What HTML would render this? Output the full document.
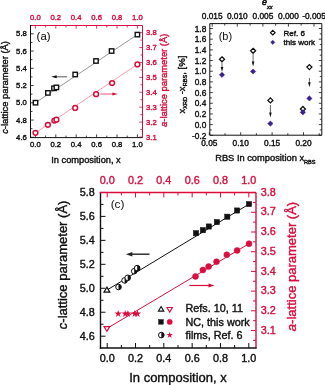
<!DOCTYPE html>
<html><head><meta charset="utf-8"><title>Lattice parameters</title>
<style>
html,body{margin:0;padding:0;background:#fff;}
body{width:325px;height:385px;overflow:hidden;}
svg{display:block;font-family:"Liberation Sans", Arial, sans-serif;}
text{stroke-linejoin:round;}

</style></head>
<body>
<svg width="325" height="385" viewBox="0 0 325 385">
<rect width="325" height="385" fill="#fff"/>
<line x1="35.40" y1="137.60" x2="35.40" y2="134.40" stroke="#111" stroke-width="0.8"/>
<line x1="35.40" y1="25.50" x2="35.40" y2="28.70" stroke="#da0e3e" stroke-width="0.8"/>
<text x="35.40" y="147.40" font-size="7.7" fill="#111" stroke="#111" stroke-width="0.4" text-anchor="middle" >0.0</text>
<text x="35.40" y="20.10" font-size="7.7" fill="#da0e3e" stroke="#da0e3e" stroke-width="0.4" text-anchor="middle" >0.0</text>
<line x1="45.60" y1="137.60" x2="45.60" y2="135.60" stroke="#111" stroke-width="0.8"/>
<line x1="45.60" y1="25.50" x2="45.60" y2="27.50" stroke="#da0e3e" stroke-width="0.8"/>
<line x1="55.80" y1="137.60" x2="55.80" y2="134.40" stroke="#111" stroke-width="0.8"/>
<line x1="55.80" y1="25.50" x2="55.80" y2="28.70" stroke="#da0e3e" stroke-width="0.8"/>
<text x="55.80" y="147.40" font-size="7.7" fill="#111" stroke="#111" stroke-width="0.4" text-anchor="middle" >0.2</text>
<text x="55.80" y="20.10" font-size="7.7" fill="#da0e3e" stroke="#da0e3e" stroke-width="0.4" text-anchor="middle" >0.2</text>
<line x1="66.00" y1="137.60" x2="66.00" y2="135.60" stroke="#111" stroke-width="0.8"/>
<line x1="66.00" y1="25.50" x2="66.00" y2="27.50" stroke="#da0e3e" stroke-width="0.8"/>
<line x1="76.20" y1="137.60" x2="76.20" y2="134.40" stroke="#111" stroke-width="0.8"/>
<line x1="76.20" y1="25.50" x2="76.20" y2="28.70" stroke="#da0e3e" stroke-width="0.8"/>
<text x="76.20" y="147.40" font-size="7.7" fill="#111" stroke="#111" stroke-width="0.4" text-anchor="middle" >0.4</text>
<text x="76.20" y="20.10" font-size="7.7" fill="#da0e3e" stroke="#da0e3e" stroke-width="0.4" text-anchor="middle" >0.4</text>
<line x1="86.40" y1="137.60" x2="86.40" y2="135.60" stroke="#111" stroke-width="0.8"/>
<line x1="86.40" y1="25.50" x2="86.40" y2="27.50" stroke="#da0e3e" stroke-width="0.8"/>
<line x1="96.60" y1="137.60" x2="96.60" y2="134.40" stroke="#111" stroke-width="0.8"/>
<line x1="96.60" y1="25.50" x2="96.60" y2="28.70" stroke="#da0e3e" stroke-width="0.8"/>
<text x="96.60" y="147.40" font-size="7.7" fill="#111" stroke="#111" stroke-width="0.4" text-anchor="middle" >0.6</text>
<text x="96.60" y="20.10" font-size="7.7" fill="#da0e3e" stroke="#da0e3e" stroke-width="0.4" text-anchor="middle" >0.6</text>
<line x1="106.80" y1="137.60" x2="106.80" y2="135.60" stroke="#111" stroke-width="0.8"/>
<line x1="106.80" y1="25.50" x2="106.80" y2="27.50" stroke="#da0e3e" stroke-width="0.8"/>
<line x1="117.00" y1="137.60" x2="117.00" y2="134.40" stroke="#111" stroke-width="0.8"/>
<line x1="117.00" y1="25.50" x2="117.00" y2="28.70" stroke="#da0e3e" stroke-width="0.8"/>
<text x="117.00" y="147.40" font-size="7.7" fill="#111" stroke="#111" stroke-width="0.4" text-anchor="middle" >0.8</text>
<text x="117.00" y="20.10" font-size="7.7" fill="#da0e3e" stroke="#da0e3e" stroke-width="0.4" text-anchor="middle" >0.8</text>
<line x1="127.20" y1="137.60" x2="127.20" y2="135.60" stroke="#111" stroke-width="0.8"/>
<line x1="127.20" y1="25.50" x2="127.20" y2="27.50" stroke="#da0e3e" stroke-width="0.8"/>
<line x1="137.40" y1="137.60" x2="137.40" y2="134.40" stroke="#111" stroke-width="0.8"/>
<line x1="137.40" y1="25.50" x2="137.40" y2="28.70" stroke="#da0e3e" stroke-width="0.8"/>
<text x="137.40" y="147.40" font-size="7.7" fill="#111" stroke="#111" stroke-width="0.4" text-anchor="middle" >1.0</text>
<text x="137.40" y="20.10" font-size="7.7" fill="#da0e3e" stroke="#da0e3e" stroke-width="0.4" text-anchor="middle" >1.0</text>
<line x1="30.50" y1="137.30" x2="33.70" y2="137.30" stroke="#111" stroke-width="0.8"/>
<text x="26.80" y="139.80" font-size="7.7" fill="#111" stroke="#111" stroke-width="0.4" text-anchor="end" >4.6</text>
<line x1="30.50" y1="128.68" x2="32.50" y2="128.68" stroke="#111" stroke-width="0.8"/>
<line x1="30.50" y1="120.05" x2="33.70" y2="120.05" stroke="#111" stroke-width="0.8"/>
<text x="26.80" y="122.55" font-size="7.7" fill="#111" stroke="#111" stroke-width="0.4" text-anchor="end" >4.8</text>
<line x1="30.50" y1="111.43" x2="32.50" y2="111.43" stroke="#111" stroke-width="0.8"/>
<line x1="30.50" y1="102.80" x2="33.70" y2="102.80" stroke="#111" stroke-width="0.8"/>
<text x="26.80" y="105.30" font-size="7.7" fill="#111" stroke="#111" stroke-width="0.4" text-anchor="end" >5.0</text>
<line x1="30.50" y1="94.18" x2="32.50" y2="94.18" stroke="#111" stroke-width="0.8"/>
<line x1="30.50" y1="85.55" x2="33.70" y2="85.55" stroke="#111" stroke-width="0.8"/>
<text x="26.80" y="88.05" font-size="7.7" fill="#111" stroke="#111" stroke-width="0.4" text-anchor="end" >5.2</text>
<line x1="30.50" y1="76.92" x2="32.50" y2="76.92" stroke="#111" stroke-width="0.8"/>
<line x1="30.50" y1="68.30" x2="33.70" y2="68.30" stroke="#111" stroke-width="0.8"/>
<text x="26.80" y="70.80" font-size="7.7" fill="#111" stroke="#111" stroke-width="0.4" text-anchor="end" >5.4</text>
<line x1="30.50" y1="59.67" x2="32.50" y2="59.67" stroke="#111" stroke-width="0.8"/>
<line x1="30.50" y1="51.05" x2="33.70" y2="51.05" stroke="#111" stroke-width="0.8"/>
<text x="26.80" y="53.55" font-size="7.7" fill="#111" stroke="#111" stroke-width="0.4" text-anchor="end" >5.6</text>
<line x1="30.50" y1="42.43" x2="32.50" y2="42.43" stroke="#111" stroke-width="0.8"/>
<line x1="30.50" y1="33.80" x2="33.70" y2="33.80" stroke="#111" stroke-width="0.8"/>
<text x="26.80" y="36.30" font-size="7.7" fill="#111" stroke="#111" stroke-width="0.4" text-anchor="end" >5.8</text>
<line x1="142.50" y1="137.00" x2="139.30" y2="137.00" stroke="#da0e3e" stroke-width="0.8"/>
<text x="146.00" y="139.50" font-size="7.7" fill="#da0e3e" stroke="#da0e3e" stroke-width="0.4" text-anchor="start" >3.1</text>
<line x1="142.50" y1="129.55" x2="140.50" y2="129.55" stroke="#da0e3e" stroke-width="0.8"/>
<line x1="142.50" y1="122.09" x2="139.30" y2="122.09" stroke="#da0e3e" stroke-width="0.8"/>
<text x="146.00" y="124.59" font-size="7.7" fill="#da0e3e" stroke="#da0e3e" stroke-width="0.4" text-anchor="start" >3.2</text>
<line x1="142.50" y1="114.64" x2="140.50" y2="114.64" stroke="#da0e3e" stroke-width="0.8"/>
<line x1="142.50" y1="107.18" x2="139.30" y2="107.18" stroke="#da0e3e" stroke-width="0.8"/>
<text x="146.00" y="109.68" font-size="7.7" fill="#da0e3e" stroke="#da0e3e" stroke-width="0.4" text-anchor="start" >3.3</text>
<line x1="142.50" y1="99.72" x2="140.50" y2="99.72" stroke="#da0e3e" stroke-width="0.8"/>
<line x1="142.50" y1="92.27" x2="139.30" y2="92.27" stroke="#da0e3e" stroke-width="0.8"/>
<text x="146.00" y="94.77" font-size="7.7" fill="#da0e3e" stroke="#da0e3e" stroke-width="0.4" text-anchor="start" >3.4</text>
<line x1="142.50" y1="84.81" x2="140.50" y2="84.81" stroke="#da0e3e" stroke-width="0.8"/>
<line x1="142.50" y1="77.36" x2="139.30" y2="77.36" stroke="#da0e3e" stroke-width="0.8"/>
<text x="146.00" y="79.86" font-size="7.7" fill="#da0e3e" stroke="#da0e3e" stroke-width="0.4" text-anchor="start" >3.5</text>
<line x1="142.50" y1="69.90" x2="140.50" y2="69.90" stroke="#da0e3e" stroke-width="0.8"/>
<line x1="142.50" y1="62.45" x2="139.30" y2="62.45" stroke="#da0e3e" stroke-width="0.8"/>
<text x="146.00" y="64.95" font-size="7.7" fill="#da0e3e" stroke="#da0e3e" stroke-width="0.4" text-anchor="start" >3.6</text>
<line x1="142.50" y1="54.99" x2="140.50" y2="54.99" stroke="#da0e3e" stroke-width="0.8"/>
<line x1="142.50" y1="47.54" x2="139.30" y2="47.54" stroke="#da0e3e" stroke-width="0.8"/>
<text x="146.00" y="50.04" font-size="7.7" fill="#da0e3e" stroke="#da0e3e" stroke-width="0.4" text-anchor="start" >3.7</text>
<line x1="142.50" y1="40.09" x2="140.50" y2="40.09" stroke="#da0e3e" stroke-width="0.8"/>
<line x1="142.50" y1="32.63" x2="139.30" y2="32.63" stroke="#da0e3e" stroke-width="0.8"/>
<text x="146.00" y="35.13" font-size="7.7" fill="#da0e3e" stroke="#da0e3e" stroke-width="0.4" text-anchor="start" >3.8</text>
<line x1="30.50" y1="25.50" x2="142.50" y2="25.50" stroke="#da0e3e" stroke-width="1"/>
<line x1="142.50" y1="25.50" x2="142.50" y2="137.60" stroke="#da0e3e" stroke-width="1"/>
<line x1="30.50" y1="25.00" x2="30.50" y2="138.10" stroke="#111" stroke-width="1"/>
<line x1="30.50" y1="137.60" x2="142.50" y2="137.60" stroke="#111" stroke-width="1"/>
<line x1="35.50" y1="102.70" x2="137.40" y2="34.60" stroke="#555" stroke-width="0.6"/>
<line x1="35.50" y1="132.80" x2="137.40" y2="64.40" stroke="#e86070" stroke-width="0.6"/>
<rect x="33.30" y="100.50" width="4.4" height="4.4" fill="#fff" stroke="#111" stroke-width="1.4"/>
<rect x="45.70" y="90.70" width="4.4" height="4.4" fill="#fff" stroke="#111" stroke-width="1.4"/>
<rect x="51.80" y="86.10" width="4.4" height="4.4" fill="#fff" stroke="#111" stroke-width="1.4"/>
<rect x="54.20" y="85.20" width="4.4" height="4.4" fill="#fff" stroke="#111" stroke-width="1.4"/>
<rect x="73.00" y="72.30" width="4.4" height="4.4" fill="#fff" stroke="#111" stroke-width="1.4"/>
<rect x="93.80" y="58.80" width="4.4" height="4.4" fill="#fff" stroke="#111" stroke-width="1.4"/>
<rect x="109.40" y="48.80" width="4.4" height="4.4" fill="#fff" stroke="#111" stroke-width="1.4"/>
<rect x="135.20" y="32.40" width="4.4" height="4.4" fill="#fff" stroke="#111" stroke-width="1.4"/>
<circle cx="35.50" cy="132.80" r="2.4" fill="#fff" stroke="#da0e3e" stroke-width="1.5"/>
<circle cx="47.90" cy="124.80" r="2.4" fill="#fff" stroke="#da0e3e" stroke-width="1.5"/>
<circle cx="54.40" cy="120.60" r="2.4" fill="#fff" stroke="#da0e3e" stroke-width="1.5"/>
<circle cx="56.40" cy="119.70" r="2.4" fill="#fff" stroke="#da0e3e" stroke-width="1.5"/>
<circle cx="75.20" cy="107.90" r="2.4" fill="#fff" stroke="#da0e3e" stroke-width="1.5"/>
<circle cx="96.10" cy="94.20" r="2.4" fill="#fff" stroke="#da0e3e" stroke-width="1.5"/>
<circle cx="112.10" cy="83.10" r="2.4" fill="#fff" stroke="#da0e3e" stroke-width="1.5"/>
<circle cx="137.40" cy="64.40" r="2.4" fill="#fff" stroke="#da0e3e" stroke-width="1.5"/>
<line x1="67.20" y1="76.80" x2="54.50" y2="76.80" stroke="#666" stroke-width="1.1"/>
<path d="M51.20,76.80 L56.70,75.30 L56.70,78.30 Z" fill="#111"/>
<line x1="100.30" y1="94.00" x2="114.50" y2="94.00" stroke="#ec6a84" stroke-width="1.1"/>
<path d="M117.80,94.00 L112.30,92.60 L112.30,95.40 Z" fill="#da0e3e"/>
<text x="36.60" y="40.30" font-size="11.4" fill="#111" stroke="#111" stroke-width="0.1" text-anchor="start" >(a)</text>
<text transform="translate(8.00,87.50) rotate(-90)" font-size="9.4" fill="#111" stroke="#111" stroke-width="0.4" text-anchor="middle" ><tspan font-style="italic">c</tspan>-lattice parameter (Å)</text>
<text transform="translate(167.30,80.30) rotate(-90)" font-size="9.4" fill="#da0e3e" stroke="#da0e3e" stroke-width="0.4" text-anchor="middle" ><tspan font-style="italic">a</tspan>-lattice parameter (Å)</text>
<text x="86.00" y="162.80" font-size="9.25" fill="#111" stroke="#111" stroke-width="0.4" text-anchor="middle" >In composition, x</text>
<line x1="209.30" y1="135.20" x2="209.30" y2="132.20" stroke="#111" stroke-width="0.8"/>
<text x="209.30" y="146.00" font-size="8.3" fill="#111" stroke="#111" stroke-width="0.4" text-anchor="middle" >0.05</text>
<line x1="225.00" y1="135.20" x2="225.00" y2="133.20" stroke="#111" stroke-width="0.8"/>
<line x1="240.70" y1="135.20" x2="240.70" y2="132.20" stroke="#111" stroke-width="0.8"/>
<text x="240.70" y="146.00" font-size="8.3" fill="#111" stroke="#111" stroke-width="0.4" text-anchor="middle" >0.10</text>
<line x1="256.40" y1="135.20" x2="256.40" y2="133.20" stroke="#111" stroke-width="0.8"/>
<line x1="272.10" y1="135.20" x2="272.10" y2="132.20" stroke="#111" stroke-width="0.8"/>
<text x="272.10" y="146.00" font-size="8.3" fill="#111" stroke="#111" stroke-width="0.4" text-anchor="middle" >0.15</text>
<line x1="287.80" y1="135.20" x2="287.80" y2="133.20" stroke="#111" stroke-width="0.8"/>
<line x1="303.50" y1="135.20" x2="303.50" y2="132.20" stroke="#111" stroke-width="0.8"/>
<text x="303.50" y="146.00" font-size="8.3" fill="#111" stroke="#111" stroke-width="0.4" text-anchor="middle" >0.20</text>
<line x1="319.20" y1="135.20" x2="319.20" y2="133.20" stroke="#111" stroke-width="0.8"/>
<line x1="209.80" y1="135.30" x2="212.80" y2="135.30" stroke="#111" stroke-width="0.8"/>
<line x1="321.80" y1="135.30" x2="318.80" y2="135.30" stroke="#111" stroke-width="0.8"/>
<text x="206.30" y="138.50" font-size="8.3" fill="#111" stroke="#111" stroke-width="0.4" text-anchor="end" >-0.2</text>
<line x1="209.80" y1="129.96" x2="211.80" y2="129.96" stroke="#111" stroke-width="0.8"/>
<line x1="321.80" y1="129.96" x2="319.80" y2="129.96" stroke="#111" stroke-width="0.8"/>
<line x1="209.80" y1="124.62" x2="212.80" y2="124.62" stroke="#111" stroke-width="0.8"/>
<line x1="321.80" y1="124.62" x2="318.80" y2="124.62" stroke="#111" stroke-width="0.8"/>
<text x="206.30" y="127.82" font-size="8.3" fill="#111" stroke="#111" stroke-width="0.4" text-anchor="end" >0.0</text>
<line x1="209.80" y1="119.28" x2="211.80" y2="119.28" stroke="#111" stroke-width="0.8"/>
<line x1="321.80" y1="119.28" x2="319.80" y2="119.28" stroke="#111" stroke-width="0.8"/>
<line x1="209.80" y1="113.94" x2="212.80" y2="113.94" stroke="#111" stroke-width="0.8"/>
<line x1="321.80" y1="113.94" x2="318.80" y2="113.94" stroke="#111" stroke-width="0.8"/>
<text x="206.30" y="117.14" font-size="8.3" fill="#111" stroke="#111" stroke-width="0.4" text-anchor="end" >0.2</text>
<line x1="209.80" y1="108.60" x2="211.80" y2="108.60" stroke="#111" stroke-width="0.8"/>
<line x1="321.80" y1="108.60" x2="319.80" y2="108.60" stroke="#111" stroke-width="0.8"/>
<line x1="209.80" y1="103.26" x2="212.80" y2="103.26" stroke="#111" stroke-width="0.8"/>
<line x1="321.80" y1="103.26" x2="318.80" y2="103.26" stroke="#111" stroke-width="0.8"/>
<text x="206.30" y="106.46" font-size="8.3" fill="#111" stroke="#111" stroke-width="0.4" text-anchor="end" >0.4</text>
<line x1="209.80" y1="97.92" x2="211.80" y2="97.92" stroke="#111" stroke-width="0.8"/>
<line x1="321.80" y1="97.92" x2="319.80" y2="97.92" stroke="#111" stroke-width="0.8"/>
<line x1="209.80" y1="92.58" x2="212.80" y2="92.58" stroke="#111" stroke-width="0.8"/>
<line x1="321.80" y1="92.58" x2="318.80" y2="92.58" stroke="#111" stroke-width="0.8"/>
<text x="206.30" y="95.78" font-size="8.3" fill="#111" stroke="#111" stroke-width="0.4" text-anchor="end" >0.6</text>
<line x1="209.80" y1="87.24" x2="211.80" y2="87.24" stroke="#111" stroke-width="0.8"/>
<line x1="321.80" y1="87.24" x2="319.80" y2="87.24" stroke="#111" stroke-width="0.8"/>
<line x1="209.80" y1="81.90" x2="212.80" y2="81.90" stroke="#111" stroke-width="0.8"/>
<line x1="321.80" y1="81.90" x2="318.80" y2="81.90" stroke="#111" stroke-width="0.8"/>
<text x="206.30" y="85.10" font-size="8.3" fill="#111" stroke="#111" stroke-width="0.4" text-anchor="end" >0.8</text>
<line x1="209.80" y1="76.56" x2="211.80" y2="76.56" stroke="#111" stroke-width="0.8"/>
<line x1="321.80" y1="76.56" x2="319.80" y2="76.56" stroke="#111" stroke-width="0.8"/>
<line x1="209.80" y1="71.22" x2="212.80" y2="71.22" stroke="#111" stroke-width="0.8"/>
<line x1="321.80" y1="71.22" x2="318.80" y2="71.22" stroke="#111" stroke-width="0.8"/>
<text x="206.30" y="74.42" font-size="8.3" fill="#111" stroke="#111" stroke-width="0.4" text-anchor="end" >1.0</text>
<line x1="209.80" y1="65.88" x2="211.80" y2="65.88" stroke="#111" stroke-width="0.8"/>
<line x1="321.80" y1="65.88" x2="319.80" y2="65.88" stroke="#111" stroke-width="0.8"/>
<line x1="209.80" y1="60.54" x2="212.80" y2="60.54" stroke="#111" stroke-width="0.8"/>
<line x1="321.80" y1="60.54" x2="318.80" y2="60.54" stroke="#111" stroke-width="0.8"/>
<text x="206.30" y="63.74" font-size="8.3" fill="#111" stroke="#111" stroke-width="0.4" text-anchor="end" >1.2</text>
<line x1="209.80" y1="55.20" x2="211.80" y2="55.20" stroke="#111" stroke-width="0.8"/>
<line x1="321.80" y1="55.20" x2="319.80" y2="55.20" stroke="#111" stroke-width="0.8"/>
<line x1="209.80" y1="49.86" x2="212.80" y2="49.86" stroke="#111" stroke-width="0.8"/>
<line x1="321.80" y1="49.86" x2="318.80" y2="49.86" stroke="#111" stroke-width="0.8"/>
<text x="206.30" y="53.06" font-size="8.3" fill="#111" stroke="#111" stroke-width="0.4" text-anchor="end" >1.4</text>
<line x1="209.80" y1="44.52" x2="211.80" y2="44.52" stroke="#111" stroke-width="0.8"/>
<line x1="321.80" y1="44.52" x2="319.80" y2="44.52" stroke="#111" stroke-width="0.8"/>
<line x1="209.80" y1="39.18" x2="212.80" y2="39.18" stroke="#111" stroke-width="0.8"/>
<line x1="321.80" y1="39.18" x2="318.80" y2="39.18" stroke="#111" stroke-width="0.8"/>
<text x="206.30" y="42.38" font-size="8.3" fill="#111" stroke="#111" stroke-width="0.4" text-anchor="end" >1.6</text>
<line x1="209.80" y1="33.84" x2="211.80" y2="33.84" stroke="#111" stroke-width="0.8"/>
<line x1="321.80" y1="33.84" x2="319.80" y2="33.84" stroke="#111" stroke-width="0.8"/>
<line x1="209.80" y1="28.50" x2="212.80" y2="28.50" stroke="#111" stroke-width="0.8"/>
<line x1="321.80" y1="28.50" x2="318.80" y2="28.50" stroke="#111" stroke-width="0.8"/>
<text x="206.30" y="31.70" font-size="8.3" fill="#111" stroke="#111" stroke-width="0.4" text-anchor="end" >1.8</text>
<line x1="212.20" y1="23.60" x2="212.20" y2="26.60" stroke="#111" stroke-width="0.8"/>
<text x="212.20" y="18.70" font-size="8.3" fill="#111" stroke="#111" stroke-width="0.4" text-anchor="middle" >0.015</text>
<line x1="224.75" y1="23.60" x2="224.75" y2="25.60" stroke="#111" stroke-width="0.8"/>
<line x1="237.30" y1="23.60" x2="237.30" y2="26.60" stroke="#111" stroke-width="0.8"/>
<text x="237.30" y="18.70" font-size="8.3" fill="#111" stroke="#111" stroke-width="0.4" text-anchor="middle" >0.010</text>
<line x1="250.10" y1="23.60" x2="250.10" y2="25.60" stroke="#111" stroke-width="0.8"/>
<line x1="262.90" y1="23.60" x2="262.90" y2="26.60" stroke="#111" stroke-width="0.8"/>
<text x="262.90" y="18.70" font-size="8.3" fill="#111" stroke="#111" stroke-width="0.4" text-anchor="middle" >0.005</text>
<line x1="275.65" y1="23.60" x2="275.65" y2="25.60" stroke="#111" stroke-width="0.8"/>
<line x1="288.40" y1="23.60" x2="288.40" y2="26.60" stroke="#111" stroke-width="0.8"/>
<text x="288.40" y="18.70" font-size="8.3" fill="#111" stroke="#111" stroke-width="0.4" text-anchor="middle" >0.000</text>
<line x1="301.20" y1="23.60" x2="301.20" y2="25.60" stroke="#111" stroke-width="0.8"/>
<line x1="314.00" y1="23.60" x2="314.00" y2="26.60" stroke="#111" stroke-width="0.8"/>
<text x="314.00" y="18.70" font-size="8.3" fill="#111" stroke="#111" stroke-width="0.4" text-anchor="middle" >-0.005</text>
<line x1="209.80" y1="23.60" x2="321.80" y2="23.60" stroke="#111" stroke-width="1"/>
<line x1="321.80" y1="23.60" x2="321.80" y2="135.20" stroke="#111" stroke-width="1"/>
<line x1="209.80" y1="23.60" x2="209.80" y2="135.20" stroke="#111" stroke-width="1"/>
<line x1="209.80" y1="135.20" x2="321.80" y2="135.20" stroke="#111" stroke-width="1"/>
<text x="262.00" y="4.60" font-size="9" fill="#111" stroke="#111" stroke-width="0.6" text-anchor="start" font-style="italic">e</text>
<text x="267.00" y="8.70" font-size="5.6" fill="#111" stroke="#111" stroke-width="0.4" text-anchor="start" font-style="italic">xx</text>
<text x="218.70" y="40.30" font-size="11" fill="#111" text-anchor="start" >(b)</text>
<path d="M272.80,30.40 L275.10,32.70 L272.80,35.00 L270.50,32.70 Z" fill="#fff" stroke="#111" stroke-width="1.2"/>
<text x="283.50" y="35.80" font-size="8" fill="#111" stroke="#111" stroke-width="0.4" text-anchor="start" >Ref. 6</text>
<path d="M272.80,40.20 L274.90,42.30 L272.80,44.40 L270.70,42.30 Z" fill="#3c2090" stroke="#3c2090" stroke-width="0.5"/>
<text x="283.50" y="45.10" font-size="8" fill="#111" stroke="#111" stroke-width="0.4" text-anchor="start" >this work</text>
<line x1="222.00" y1="62.70" x2="222.00" y2="68.90" stroke="#555" stroke-width="0.9"/>
<path d="M222.00,71.90 L220.70,66.90 L223.30,66.90 Z" fill="#111"/>
<line x1="253.10" y1="54.20" x2="253.10" y2="63.50" stroke="#555" stroke-width="0.9"/>
<path d="M253.10,66.50 L251.80,61.50 L254.40,61.50 Z" fill="#111"/>
<line x1="270.40" y1="105.00" x2="270.40" y2="114.50" stroke="#555" stroke-width="0.9"/>
<path d="M270.40,117.50 L269.10,112.50 L271.70,112.50 Z" fill="#111"/>
<line x1="309.40" y1="77.90" x2="309.40" y2="84.30" stroke="#555" stroke-width="0.9"/>
<path d="M309.40,87.30 L308.10,82.30 L310.70,82.30 Z" fill="#111"/>
<path d="M222.00,56.80 L224.50,59.30 L222.00,61.80 L219.50,59.30 Z" fill="#fff" stroke="#111" stroke-width="1.3"/>
<path d="M253.10,48.30 L255.60,50.80 L253.10,53.30 L250.60,50.80 Z" fill="#fff" stroke="#111" stroke-width="1.3"/>
<path d="M270.40,97.90 L272.90,100.40 L270.40,102.90 L267.90,100.40 Z" fill="#fff" stroke="#111" stroke-width="1.3"/>
<path d="M302.90,106.50 L305.40,109.00 L302.90,111.50 L300.40,109.00 Z" fill="#fff" stroke="#111" stroke-width="1.3"/>
<path d="M309.40,64.60 L311.90,67.10 L309.40,69.60 L306.90,67.10 Z" fill="#fff" stroke="#111" stroke-width="1.3"/>
<path d="M222.00,72.20 L224.60,74.80 L222.00,77.40 L219.40,74.80 Z" fill="#3c2090" stroke="#3c2090" stroke-width="0.6"/>
<path d="M253.10,68.90 L255.70,71.50 L253.10,74.10 L250.50,71.50 Z" fill="#3c2090" stroke="#3c2090" stroke-width="0.6"/>
<path d="M270.40,121.00 L273.00,123.60 L270.40,126.20 L267.80,123.60 Z" fill="#3c2090" stroke="#3c2090" stroke-width="0.6"/>
<path d="M302.90,109.70 L305.50,112.30 L302.90,114.90 L300.30,112.30 Z" fill="#3c2090" stroke="#3c2090" stroke-width="0.6"/>
<path d="M309.40,95.80 L312.00,98.40 L309.40,101.00 L306.80,98.40 Z" fill="#3c2090" stroke="#3c2090" stroke-width="0.6"/>
<text transform="translate(184.5,84.6) rotate(-90)" font-size="9.6" fill="#111" stroke="#111" stroke-width="0.4" text-anchor="middle">x<tspan font-size="5.6" dy="2.4">XRD</tspan><tspan dy="-2.4"> -x</tspan><tspan font-size="5.6" dy="2.4">RBS</tspan><tspan dy="-2.4">, [%]</tspan></text>
<text x="215.2" y="161.1" font-size="9.3" fill="#111" stroke="#111" stroke-width="0.4">RBS In composition x<tspan font-size="5.6" dy="2.4">RBS</tspan></text>
<line x1="107.20" y1="348.00" x2="107.20" y2="343.00" stroke="#111" stroke-width="1.0"/>
<line x1="107.20" y1="192.40" x2="107.20" y2="197.40" stroke="#da0e3e" stroke-width="1.0"/>
<text x="107.20" y="361.60" font-size="10.8" fill="#111" stroke="#111" stroke-width="0.4" text-anchor="middle" >0.0</text>
<text x="107.20" y="184.40" font-size="10.8" fill="#da0e3e" stroke="#da0e3e" stroke-width="0.4" text-anchor="middle" >0.0</text>
<line x1="121.36" y1="348.00" x2="121.36" y2="345.00" stroke="#111" stroke-width="1.0"/>
<line x1="121.36" y1="192.40" x2="121.36" y2="195.40" stroke="#da0e3e" stroke-width="1.0"/>
<line x1="135.52" y1="348.00" x2="135.52" y2="343.00" stroke="#111" stroke-width="1.0"/>
<line x1="135.52" y1="192.40" x2="135.52" y2="197.40" stroke="#da0e3e" stroke-width="1.0"/>
<text x="135.52" y="361.60" font-size="10.8" fill="#111" stroke="#111" stroke-width="0.4" text-anchor="middle" >0.2</text>
<text x="135.52" y="184.40" font-size="10.8" fill="#da0e3e" stroke="#da0e3e" stroke-width="0.4" text-anchor="middle" >0.2</text>
<line x1="149.68" y1="348.00" x2="149.68" y2="345.00" stroke="#111" stroke-width="1.0"/>
<line x1="149.68" y1="192.40" x2="149.68" y2="195.40" stroke="#da0e3e" stroke-width="1.0"/>
<line x1="163.84" y1="348.00" x2="163.84" y2="343.00" stroke="#111" stroke-width="1.0"/>
<line x1="163.84" y1="192.40" x2="163.84" y2="197.40" stroke="#da0e3e" stroke-width="1.0"/>
<text x="163.84" y="361.60" font-size="10.8" fill="#111" stroke="#111" stroke-width="0.4" text-anchor="middle" >0.4</text>
<text x="163.84" y="184.40" font-size="10.8" fill="#da0e3e" stroke="#da0e3e" stroke-width="0.4" text-anchor="middle" >0.4</text>
<line x1="178.00" y1="348.00" x2="178.00" y2="345.00" stroke="#111" stroke-width="1.0"/>
<line x1="178.00" y1="192.40" x2="178.00" y2="195.40" stroke="#da0e3e" stroke-width="1.0"/>
<line x1="192.16" y1="348.00" x2="192.16" y2="343.00" stroke="#111" stroke-width="1.0"/>
<line x1="192.16" y1="192.40" x2="192.16" y2="197.40" stroke="#da0e3e" stroke-width="1.0"/>
<text x="192.16" y="361.60" font-size="10.8" fill="#111" stroke="#111" stroke-width="0.4" text-anchor="middle" >0.6</text>
<text x="192.16" y="184.40" font-size="10.8" fill="#da0e3e" stroke="#da0e3e" stroke-width="0.4" text-anchor="middle" >0.6</text>
<line x1="206.32" y1="348.00" x2="206.32" y2="345.00" stroke="#111" stroke-width="1.0"/>
<line x1="206.32" y1="192.40" x2="206.32" y2="195.40" stroke="#da0e3e" stroke-width="1.0"/>
<line x1="220.48" y1="348.00" x2="220.48" y2="343.00" stroke="#111" stroke-width="1.0"/>
<line x1="220.48" y1="192.40" x2="220.48" y2="197.40" stroke="#da0e3e" stroke-width="1.0"/>
<text x="220.48" y="361.60" font-size="10.8" fill="#111" stroke="#111" stroke-width="0.4" text-anchor="middle" >0.8</text>
<text x="220.48" y="184.40" font-size="10.8" fill="#da0e3e" stroke="#da0e3e" stroke-width="0.4" text-anchor="middle" >0.8</text>
<line x1="234.64" y1="348.00" x2="234.64" y2="345.00" stroke="#111" stroke-width="1.0"/>
<line x1="234.64" y1="192.40" x2="234.64" y2="195.40" stroke="#da0e3e" stroke-width="1.0"/>
<line x1="248.80" y1="348.00" x2="248.80" y2="343.00" stroke="#111" stroke-width="1.0"/>
<line x1="248.80" y1="192.40" x2="248.80" y2="197.40" stroke="#da0e3e" stroke-width="1.0"/>
<text x="248.80" y="361.60" font-size="10.8" fill="#111" stroke="#111" stroke-width="0.4" text-anchor="middle" >1.0</text>
<text x="248.80" y="184.40" font-size="10.8" fill="#da0e3e" stroke="#da0e3e" stroke-width="0.4" text-anchor="middle" >1.0</text>
<line x1="100.50" y1="336.20" x2="105.50" y2="336.20" stroke="#111" stroke-width="1.0"/>
<text x="94.80" y="340.00" font-size="10.8" fill="#111" stroke="#111" stroke-width="0.4" text-anchor="end" >4.6</text>
<line x1="100.50" y1="324.22" x2="103.50" y2="324.22" stroke="#111" stroke-width="1.0"/>
<line x1="100.50" y1="312.24" x2="105.50" y2="312.24" stroke="#111" stroke-width="1.0"/>
<text x="94.80" y="316.04" font-size="10.8" fill="#111" stroke="#111" stroke-width="0.4" text-anchor="end" >4.8</text>
<line x1="100.50" y1="300.26" x2="103.50" y2="300.26" stroke="#111" stroke-width="1.0"/>
<line x1="100.50" y1="288.28" x2="105.50" y2="288.28" stroke="#111" stroke-width="1.0"/>
<text x="94.80" y="292.08" font-size="10.8" fill="#111" stroke="#111" stroke-width="0.4" text-anchor="end" >5.0</text>
<line x1="100.50" y1="276.30" x2="103.50" y2="276.30" stroke="#111" stroke-width="1.0"/>
<line x1="100.50" y1="264.32" x2="105.50" y2="264.32" stroke="#111" stroke-width="1.0"/>
<text x="94.80" y="268.12" font-size="10.8" fill="#111" stroke="#111" stroke-width="0.4" text-anchor="end" >5.2</text>
<line x1="100.50" y1="252.34" x2="103.50" y2="252.34" stroke="#111" stroke-width="1.0"/>
<line x1="100.50" y1="240.36" x2="105.50" y2="240.36" stroke="#111" stroke-width="1.0"/>
<text x="94.80" y="244.16" font-size="10.8" fill="#111" stroke="#111" stroke-width="0.4" text-anchor="end" >5.4</text>
<line x1="100.50" y1="228.38" x2="103.50" y2="228.38" stroke="#111" stroke-width="1.0"/>
<line x1="100.50" y1="216.40" x2="105.50" y2="216.40" stroke="#111" stroke-width="1.0"/>
<text x="94.80" y="220.20" font-size="10.8" fill="#111" stroke="#111" stroke-width="0.4" text-anchor="end" >5.6</text>
<line x1="100.50" y1="204.42" x2="103.50" y2="204.42" stroke="#111" stroke-width="1.0"/>
<line x1="100.50" y1="192.44" x2="105.50" y2="192.44" stroke="#111" stroke-width="1.0"/>
<text x="94.80" y="196.24" font-size="10.8" fill="#111" stroke="#111" stroke-width="0.4" text-anchor="end" >5.8</text>
<line x1="256.00" y1="340.35" x2="253.00" y2="340.35" stroke="#da0e3e" stroke-width="1.0"/>
<line x1="256.00" y1="330.50" x2="251.00" y2="330.50" stroke="#da0e3e" stroke-width="1.0"/>
<text x="260.70" y="333.60" font-size="10.8" fill="#da0e3e" stroke="#da0e3e" stroke-width="0.4" text-anchor="start" >3.1</text>
<line x1="256.00" y1="320.65" x2="253.00" y2="320.65" stroke="#da0e3e" stroke-width="1.0"/>
<line x1="256.00" y1="310.80" x2="251.00" y2="310.80" stroke="#da0e3e" stroke-width="1.0"/>
<text x="260.70" y="313.90" font-size="10.8" fill="#da0e3e" stroke="#da0e3e" stroke-width="0.4" text-anchor="start" >3.2</text>
<line x1="256.00" y1="300.95" x2="253.00" y2="300.95" stroke="#da0e3e" stroke-width="1.0"/>
<line x1="256.00" y1="291.10" x2="251.00" y2="291.10" stroke="#da0e3e" stroke-width="1.0"/>
<text x="260.70" y="294.20" font-size="10.8" fill="#da0e3e" stroke="#da0e3e" stroke-width="0.4" text-anchor="start" >3.3</text>
<line x1="256.00" y1="281.25" x2="253.00" y2="281.25" stroke="#da0e3e" stroke-width="1.0"/>
<line x1="256.00" y1="271.40" x2="251.00" y2="271.40" stroke="#da0e3e" stroke-width="1.0"/>
<text x="260.70" y="274.50" font-size="10.8" fill="#da0e3e" stroke="#da0e3e" stroke-width="0.4" text-anchor="start" >3.4</text>
<line x1="256.00" y1="261.55" x2="253.00" y2="261.55" stroke="#da0e3e" stroke-width="1.0"/>
<line x1="256.00" y1="251.70" x2="251.00" y2="251.70" stroke="#da0e3e" stroke-width="1.0"/>
<text x="260.70" y="254.80" font-size="10.8" fill="#da0e3e" stroke="#da0e3e" stroke-width="0.4" text-anchor="start" >3.5</text>
<line x1="256.00" y1="241.85" x2="253.00" y2="241.85" stroke="#da0e3e" stroke-width="1.0"/>
<line x1="256.00" y1="232.00" x2="251.00" y2="232.00" stroke="#da0e3e" stroke-width="1.0"/>
<text x="260.70" y="235.10" font-size="10.8" fill="#da0e3e" stroke="#da0e3e" stroke-width="0.4" text-anchor="start" >3.6</text>
<line x1="256.00" y1="222.15" x2="253.00" y2="222.15" stroke="#da0e3e" stroke-width="1.0"/>
<line x1="256.00" y1="212.30" x2="251.00" y2="212.30" stroke="#da0e3e" stroke-width="1.0"/>
<text x="260.70" y="215.40" font-size="10.8" fill="#da0e3e" stroke="#da0e3e" stroke-width="0.4" text-anchor="start" >3.7</text>
<line x1="256.00" y1="202.45" x2="253.00" y2="202.45" stroke="#da0e3e" stroke-width="1.0"/>
<line x1="256.00" y1="192.60" x2="251.00" y2="192.60" stroke="#da0e3e" stroke-width="1.0"/>
<text x="260.70" y="195.70" font-size="10.8" fill="#da0e3e" stroke="#da0e3e" stroke-width="0.4" text-anchor="start" >3.8</text>
<line x1="100.50" y1="192.40" x2="100.50" y2="348.70" stroke="#111" stroke-width="1.4"/>
<line x1="99.80" y1="192.40" x2="256.00" y2="192.40" stroke="#da0e3e" stroke-width="1.5"/>
<line x1="256.00" y1="192.40" x2="256.00" y2="348.00" stroke="#da0e3e" stroke-width="1.4"/>
<line x1="99.80" y1="348.00" x2="256.70" y2="348.00" stroke="#111" stroke-width="1.4"/>
<line x1="106.90" y1="290.10" x2="249.00" y2="204.10" stroke="#111" stroke-width="1.0"/>
<line x1="106.90" y1="328.50" x2="249.00" y2="243.70" stroke="#da0e3e" stroke-width="1.0"/>
<rect x="193.40" y="230.60" width="5.2" height="5.2" fill="#111" stroke="#111" stroke-width="0.5"/>
<rect x="200.30" y="227.60" width="5.2" height="5.2" fill="#111" stroke="#111" stroke-width="0.5"/>
<rect x="206.20" y="223.90" width="5.2" height="5.2" fill="#111" stroke="#111" stroke-width="0.5"/>
<rect x="214.30" y="219.50" width="5.2" height="5.2" fill="#111" stroke="#111" stroke-width="0.5"/>
<rect x="224.70" y="214.10" width="5.2" height="5.2" fill="#111" stroke="#111" stroke-width="0.5"/>
<rect x="234.50" y="207.90" width="5.2" height="5.2" fill="#111" stroke="#111" stroke-width="0.5"/>
<rect x="246.40" y="201.50" width="5.2" height="5.2" fill="#111" stroke="#111" stroke-width="0.5"/>
<circle cx="195.50" cy="276.40" r="3.0" fill="#da0e3e" stroke="#da0e3e" stroke-width="0.5"/>
<circle cx="202.90" cy="270.00" r="3.0" fill="#da0e3e" stroke="#da0e3e" stroke-width="0.5"/>
<circle cx="208.60" cy="266.60" r="3.0" fill="#da0e3e" stroke="#da0e3e" stroke-width="0.5"/>
<circle cx="216.50" cy="261.70" r="3.0" fill="#da0e3e" stroke="#da0e3e" stroke-width="0.5"/>
<circle cx="226.80" cy="254.80" r="3.0" fill="#da0e3e" stroke="#da0e3e" stroke-width="0.5"/>
<circle cx="237.10" cy="250.40" r="3.0" fill="#da0e3e" stroke="#da0e3e" stroke-width="0.5"/>
<circle cx="249.00" cy="243.70" r="3.0" fill="#da0e3e" stroke="#da0e3e" stroke-width="0.5"/>
<path d="M106.90,287.09 L109.80,292.11 L104.00,292.11 Z" fill="#fff" stroke="#111" stroke-width="1.2"/>
<circle cx="118.50" cy="287.00" r="2.8" fill="#fff" stroke="#111" stroke-width="1.0"/>
<path d="M118.50,284.20 A2.8,2.8 0 0 1 118.50,289.80 Z" fill="#111"/>
<circle cx="124.60" cy="280.40" r="2.8" fill="#fff" stroke="#111" stroke-width="1.0"/>
<path d="M124.60,277.60 A2.8,2.8 0 0 1 124.60,283.20 Z" fill="#111"/>
<circle cx="127.70" cy="277.80" r="2.8" fill="#fff" stroke="#111" stroke-width="1.0"/>
<path d="M127.70,275.00 A2.8,2.8 0 0 1 127.70,280.60 Z" fill="#111"/>
<circle cx="134.20" cy="271.20" r="2.8" fill="#fff" stroke="#111" stroke-width="1.0"/>
<path d="M134.20,268.40 A2.8,2.8 0 0 1 134.20,274.00 Z" fill="#111"/>
<circle cx="137.20" cy="268.10" r="2.8" fill="#fff" stroke="#111" stroke-width="1.0"/>
<path d="M137.20,265.30 A2.8,2.8 0 0 1 137.20,270.90 Z" fill="#111"/>
<polygon points="118.20,309.90 119.07,312.60 121.91,312.59 119.61,314.26 120.49,316.96 118.20,315.28 115.91,316.96 116.79,314.26 114.49,312.59 117.33,312.60" fill="#da0e3e"/>
<polygon points="125.20,309.90 126.07,312.60 128.91,312.59 126.61,314.26 127.49,316.96 125.20,315.28 122.91,316.96 123.79,314.26 121.49,312.59 124.33,312.60" fill="#da0e3e"/>
<polygon points="127.90,309.90 128.77,312.60 131.61,312.59 129.31,314.26 130.19,316.96 127.90,315.28 125.61,316.96 126.49,314.26 124.19,312.59 127.03,312.60" fill="#da0e3e"/>
<polygon points="134.80,309.90 135.67,312.60 138.51,312.59 136.21,314.26 137.09,316.96 134.80,315.28 132.51,316.96 133.39,314.26 131.09,312.59 133.93,312.60" fill="#da0e3e"/>
<polygon points="137.40,309.90 138.27,312.60 141.11,312.59 138.81,314.26 139.69,316.96 137.40,315.28 135.11,316.96 135.99,314.26 133.69,312.59 136.53,312.60" fill="#da0e3e"/>
<path d="M106.90,331.41 L109.70,326.56 L104.10,326.56 Z" fill="#fff" stroke="#da0e3e" stroke-width="1.2"/>
<line x1="149.50" y1="254.20" x2="129.74" y2="254.20" stroke="#222" stroke-width="1.4"/>
<path d="M125.90,254.20 L132.30,252.00 L132.30,256.40 Z" fill="#222"/>
<line x1="189.40" y1="285.50" x2="210.90" y2="285.50" stroke="#da0e3e" stroke-width="1.2"/>
<path d="M214.50,285.50 L208.50,283.50 L208.50,287.50 Z" fill="#da0e3e"/>
<text x="110.70" y="208.40" font-size="11.8" fill="#111" text-anchor="start" >(c)</text>
<path d="M161.10,306.49 L163.80,311.17 L158.40,311.17 Z" fill="#fff" stroke="#111" stroke-width="1.1"/>
<path d="M169.70,312.11 L172.40,307.43 L167.00,307.43 Z" fill="#fff" stroke="#da0e3e" stroke-width="1.1"/>
<rect x="158.70" y="319.60" width="4.6" height="4.6" fill="#111" stroke="#111" stroke-width="0.5"/>
<circle cx="169.70" cy="321.90" r="2.6" fill="#da0e3e" stroke="#da0e3e" stroke-width="0.5"/>
<circle cx="161.30" cy="335.10" r="2.8" fill="#fff" stroke="#111" stroke-width="1.0"/>
<path d="M161.30,332.30 A2.8,2.8 0 0 1 161.30,337.90 Z" fill="#111"/>
<polygon points="169.70,331.70 170.46,334.05 172.93,334.05 170.93,335.50 171.70,337.85 169.70,336.39 167.70,337.85 168.47,335.50 166.47,334.05 168.94,334.05" fill="#da0e3e"/>
<text x="185.50" y="312.00" font-size="10.8" fill="#111" stroke="#111" stroke-width="0.4" text-anchor="start" >Refs. 10, 11</text>
<text x="185.50" y="325.60" font-size="10.8" fill="#111" stroke="#111" stroke-width="0.4" text-anchor="start" >NC, this work</text>
<text x="185.50" y="338.80" font-size="10.8" fill="#111" stroke="#111" stroke-width="0.4" text-anchor="start" >films, Ref. 6</text>
<text transform="translate(67.00,264.90) rotate(-90)" font-size="13" fill="#111" stroke="#111" stroke-width="0.4" text-anchor="middle" ><tspan font-style="italic">c</tspan>-lattice parameter (Å)</text>
<text transform="translate(295.80,266.50) rotate(-90)" font-size="13" fill="#da0e3e" stroke="#da0e3e" stroke-width="0.4" text-anchor="middle" ><tspan font-style="italic">a</tspan>-lattice parameter (Å)</text>
<text x="129.20" y="382.30" font-size="13" fill="#111" stroke="#111" stroke-width="0.4" text-anchor="start" >In composition, x</text>
</svg>
</body></html>
